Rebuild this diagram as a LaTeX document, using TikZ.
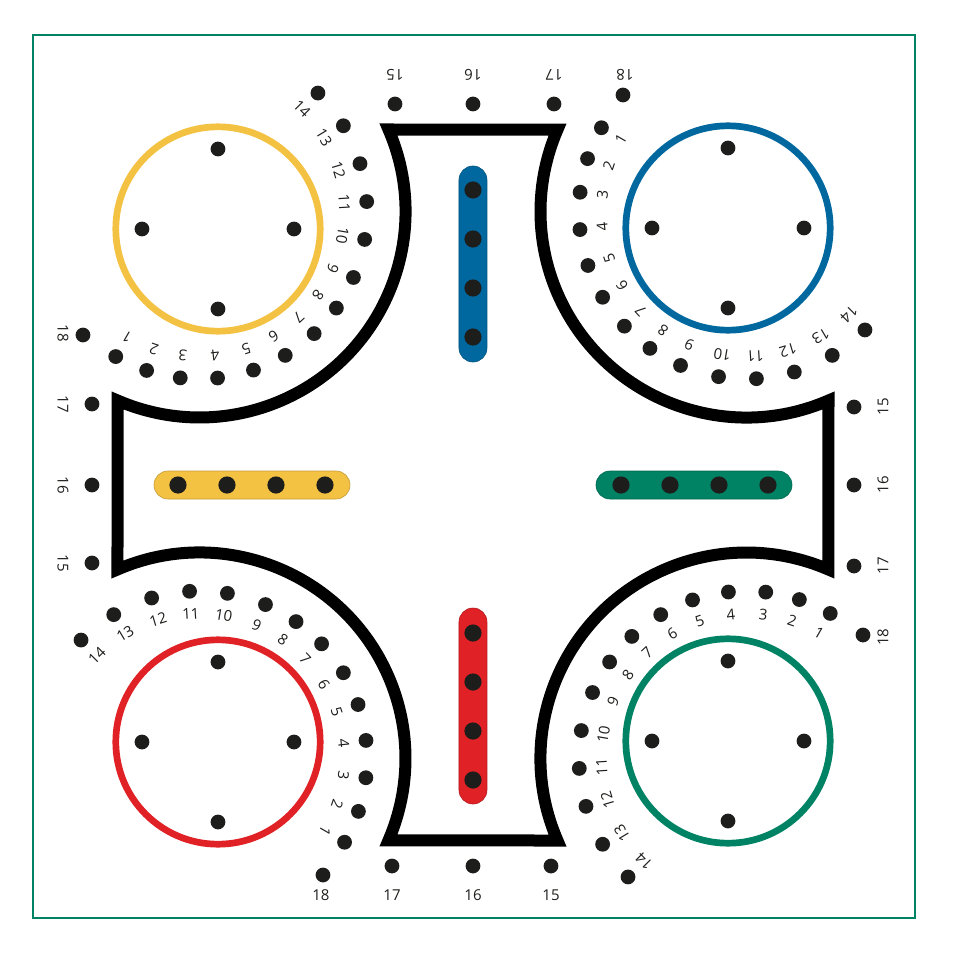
\documentclass[tikz,border=0pt]{standalone}
\usepackage{fontspec}
\setmainfont{Open Sans}
\usepackage{tikz}
\usepackage{xcolor}
\definecolor{homered}{HTML}{E02126}
\definecolor{homeyellow}{HTML}{F4C242}
\definecolor{homeblue}{HTML}{00689F}
\definecolor{homegreen}{HTML}{008264}
\definecolor{pegblack}{HTML}{1D1D1B}

\begin{document}
\begin{tikzpicture}[x=1pt,y=1pt,
    hole/.style={fill=pegblack},
    numlbl/.style={inner sep=0pt,text=pegblack,font=\fontsize{15}{16}\selectfont}]
  \useasboundingbox (-473,-485) rectangle (481,485);
  \draw [homegreen,line width=2pt] (-440,-432.7) rectangle (442,449.8);
  \draw [black,line width=12pt,line join=miter] (-355.5,-84.5) arc [start angle=113.46,end angle=-23.46,radius=206]
    -- (84.5,-355.5) arc [start angle=203.46,end angle=66.54,radius=206]
    -- (355.5,84.5) arc [start angle=293.46,end angle=156.54,radius=206]
    -- (-84.5,355.5) arc [start angle=23.46,end angle=-113.46,radius=206] -- cycle;
  \foreach \c/\hx/\hy in {homered/-255/-257,homegreen/255/-256,homeblue/255/257,homeyellow/-255/256} {
    \draw [\c,line width=6.7pt] (\hx,\hy) circle [radius=102.2];
    \foreach \dx/\dy in {76/0,-76/0,0/80,0/-80}
      \fill [hole] (\hx,\hy) ++(\dx,\dy) circle [radius=7.4];
  }
  \foreach \r/\c in {0/homered,90/homegreen,180/homeblue,270/homeyellow} {
    \begin{scope}[rotate=\r,transform shape]
      \draw [fill=\c,draw=\c!80!black,line width=0.6pt,rounded corners=14pt] (-14,-319) rectangle (14,-123);
      \foreach \y in {-148,-197,-246,-295}
        \fill [hole] (0,\y) circle [radius=8.6];
      \foreach \i/\a in {1/-30,2/-18.4,3/-6.6,4/6.2,5/18.8,6/30.8,7/43.2,8/54.8,9/66.8,10/80.4,11/93.4,12/106.6,13/120.8,14/135} {
        \fill [hole] (-273.5,-273.5) ++(\a:167.5) circle [radius=7.4];
        \node [numlbl,rotate=\a-90] (t\r-\i) at ([shift={(\a:145)}]-273.5,-273.5) {\i};
      }
      \foreach \q/\x in {15/78,16/0,17/-81} {
        \fill [hole] (\x,-381) circle [radius=7.4];
        \node [numlbl] (s\r-\q) at (\x,-410) {\q};
      }
      \fill [hole] (-150,-390) circle [radius=7.4];
      \node [numlbl] (s\r-18) at (-152,-410) {18};
    \end{scope}
  }
\end{tikzpicture}
\end{document}
